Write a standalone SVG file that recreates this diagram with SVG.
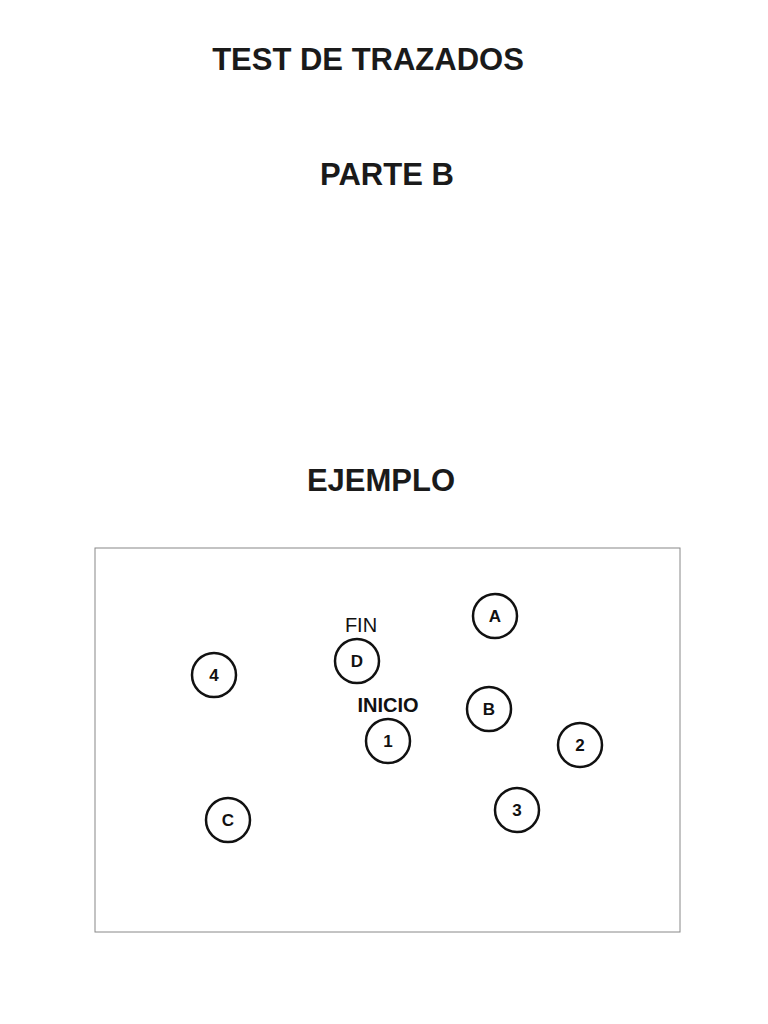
<svg xmlns="http://www.w3.org/2000/svg" width="768" height="1024" viewBox="0 0 768 1024">
<style>
.t{font-family:"Liberation Sans",Arial,sans-serif;font-weight:bold;font-size:31px;fill:#1a1a1a;text-anchor:middle}
.n circle{fill:#fff;stroke:#111;stroke-width:2.5}
.n text{font-family:"Liberation Sans",Arial,sans-serif;font-weight:bold;font-size:17px;fill:#111;text-anchor:middle}
.l{font-family:"Liberation Sans",Arial,sans-serif;font-size:20px;fill:#111;text-anchor:middle}
</style>
<rect width="768" height="1024" fill="#fff"/>
<text class="t" x="368" y="70">TEST DE TRAZADOS</text>
<text class="t" x="387" y="185">PARTE B</text>
<text class="t" x="381" y="491">EJEMPLO</text>
<rect x="95" y="548" width="585" height="384" fill="none" stroke="#888" stroke-width="1"/>
<g id="connectors"></g>
<text class="l" x="361" y="632">FIN</text>
<text class="l" x="388" y="712" font-weight="bold" font-size="18">INICIO</text>
<g id="nA" class="n"><circle cx="495" cy="616" r="22"/><text x="495" y="622">A</text></g>
<g id="nD" class="n"><circle cx="357" cy="661" r="22"/><text x="357" y="667">D</text></g>
<g id="n4" class="n"><circle cx="214" cy="675" r="22"/><text x="214" y="681">4</text></g>
<g id="nB" class="n"><circle cx="489" cy="709" r="22"/><text x="489" y="715">B</text></g>
<g id="n1" class="n"><circle cx="388" cy="741" r="22"/><text x="388" y="747">1</text></g>
<g id="n2" class="n"><circle cx="580" cy="745" r="22"/><text x="580" y="751">2</text></g>
<g id="n3" class="n"><circle cx="517" cy="810" r="22"/><text x="517" y="816">3</text></g>
<g id="nC" class="n"><circle cx="228" cy="820" r="22"/><text x="228" y="826">C</text></g>
</svg>
